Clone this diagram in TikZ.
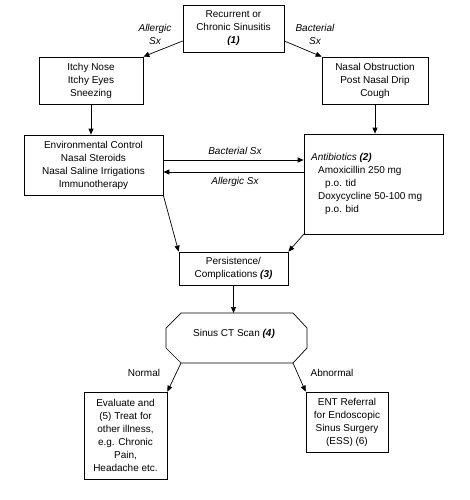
\documentclass[tikz,border=0pt]{standalone}
\usepackage{fontspec}
\setmainfont{Liberation Sans}
\usetikzlibrary{arrows.meta,calc}
\begin{document}
\begin{tikzpicture}[x=1pt,y=-1pt,
  font=\fontsize{10}{13}\selectfont,
  box/.style={draw,line width=0.7pt,align=center,inner sep=0pt},
  conn/.style={line width=0.7pt,-{Triangle[length=6pt,width=5pt]}},
  lbl/.style={align=center,inner sep=0pt,font=\fontsize{10}{13}\selectfont\itshape},
  plainlbl/.style={align=center,inner sep=0pt}]
\useasboundingbox (0,0) rectangle (469,500);
\fill[white] (0,0) rectangle (469,500);

\node[box,minimum width=101pt,minimum height=47pt] (top) at (233.5,28.5)
  {Recurrent or\\Chronic Sinusitis\\\textbf{\textit{(1)}}};
\node[box,minimum width=104pt,minimum height=47pt] (itchy) at (91,80.5)
  {Itchy Nose\\Itchy Eyes\\Sneezing};
\node[box,minimum width=106pt,minimum height=47pt] (nasal) at (375,80.5)
  {Nasal Obstruction\\Post Nasal Drip\\Cough};
\node[box,minimum width=139pt,minimum height=60pt] (env) at (93.5,165)
  {Environmental Control\\Nasal Steroids\\Nasal Saline Irrigations\\Immunotherapy};
\node[draw,line width=0.7pt,minimum width=139pt,minimum height=100pt,inner sep=0pt] (anti) at (373.5,184) {};
\node[align=left,inner sep=0pt,anchor=north west] (antitext) at (311,153)
  {\textit{Antibiotics \textbf{(2)}}\\
   \hspace*{7pt}Amoxicillin 250 mg\\
   \hspace*{14pt}p.o. tid\\
   \hspace*{7pt}Doxycycline 50-100 mg\\
   \hspace*{14pt}p.o. bid};
\node[box,minimum width=109pt,minimum height=33pt] (pers) at (233.5,268.5)
  {Persistence/\\Complications \textbf{\textit{(3)}}};

% octagon
\coordinate (o1) at (166,328);
\coordinate (otl) at (181,313);
\coordinate (otr) at (293,313);
\coordinate (o4) at (307,328);
\coordinate (o5) at (307,348);
\coordinate (obr) at (293,363);
\coordinate (obl) at (181,363);
\coordinate (o8) at (166,348);
\coordinate (otop) at (233.5,313);
\draw[line width=0.7pt] (o1) -- (otl) -- (otr) -- (o4) -- (o5) -- (obr) -- (obl) -- (o8) -- cycle;
\node[plainlbl] (ct) at (234,334) {Sinus CT Scan \textbf{\textit{(4)}}};

\node[box,minimum width=83pt,minimum height=87pt] (eval) at (125.5,435.5)
  {Evaluate and\\(5) Treat for\\other illness,\\e.g. Chronic\\Pain,\\Headache etc.};
\node[box,minimum width=82pt,minimum height=60pt] (ent) at (347,422)
  {ENT Referral\\for Endoscopic\\Sinus Surgery\\(ESS) (6)};

% connectors
\coordinate (tl) at ($(top.west)+(0,12.5)$);
\coordinate (tr) at ($(top.east)+(0,12.5)$);
\coordinate (bs) at ($(env.east)+(0,-5)$);
\coordinate (as) at ($(anti.west)+(0,-12)$);
\draw[conn] (tl) -- (itchy.north east);
\draw[conn] (tr) -- (nasal.north west);
\draw[conn] (itchy.south) -- (itchy.south |- env.north);
\draw[conn] (nasal.south) -- (nasal.south |- anti.north);
\draw[conn] (bs) -- (bs -| anti.west);
\draw[conn] (as) -- (as -| env.east);
\draw[conn] (env.south east) -- (pers.north west);
\draw[conn] (anti.south west) -- (pers.north east);
\draw[conn] (pers.south) -- (otop);
\draw[conn] (obl) -- (eval.north east);
\draw[conn] (obr) -- (ent.north west);

% labels
\node[lbl] (l1) at (155,34) {Allergic\\Sx};
\node[lbl] (l2) at (315,34) {Bacterial\\Sx};
\node[lbl] (l3) at (235,151) {Bacterial Sx};
\node[lbl] (l4) at (235,182) {Allergic Sx};
\node[plainlbl] (l5) at (144,373) {Normal};
\node[plainlbl] (l6) at (332,373) {Abnormal};
\end{tikzpicture}
\end{document}
